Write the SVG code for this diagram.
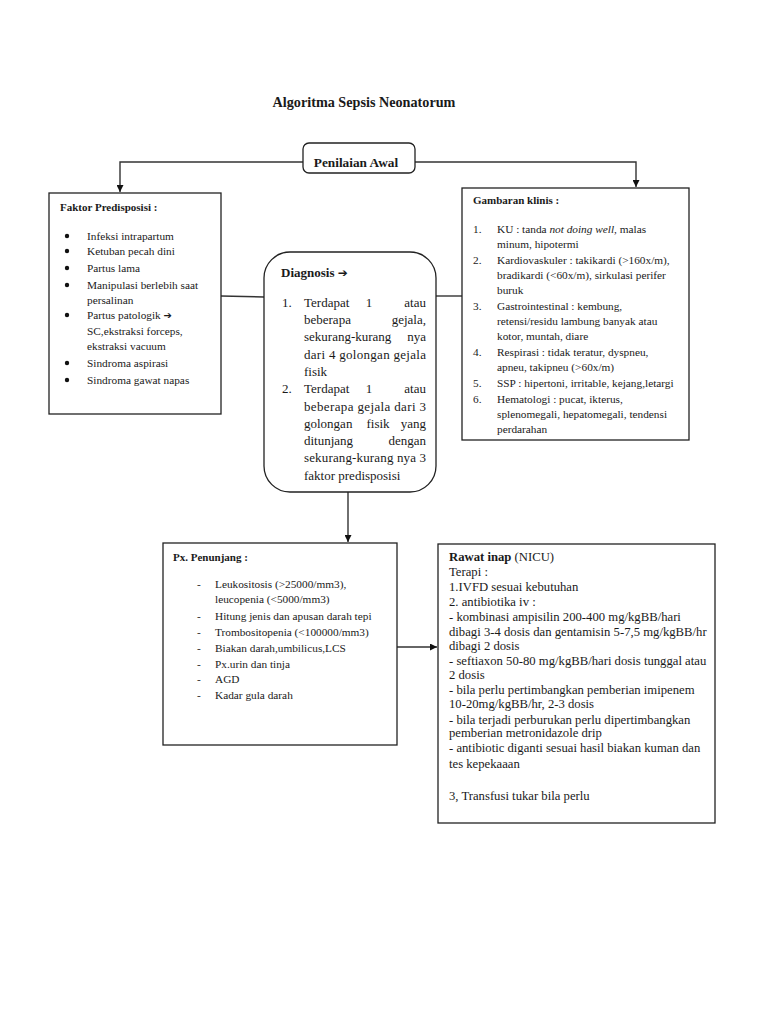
<svg xmlns="http://www.w3.org/2000/svg" width="768" height="1024" viewBox="0 0 768 1024">
<style>
text{font-family:"Liberation Serif","Times New Roman",serif;fill:#1a1a1a}
.box{fill:#fff;stroke:#222;stroke-width:1.3}
.b{font-weight:bold}
.s11{font-size:11.3px}
.s13{font-size:13px}
.s125{font-size:12.7px}
.h{font-size:11px;font-weight:bold}
.arr{font-family:"DejaVu Sans",sans-serif}
.con{fill:none;stroke:#333;stroke-width:1.4}
</style>
<defs>
<marker id="ah" viewBox="0 0 10 10" refX="10" refY="5" markerWidth="7" markerHeight="7" orient="auto" markerUnits="userSpaceOnUse">
<path d="M0,0 L10,5 L0,10 z" fill="#111"/>
</marker>
</defs>
<rect width="768" height="1024" fill="#fff"/>
<text x="364" y="107" text-anchor="middle" class="b" font-size="14.2">Algoritma Sepsis Neonatorum</text>

<g id="connectors">
<path class="con" d="M303,162 H120 V192" marker-end="url(#ah)"/>
<path class="con" d="M415,162 H636 V187" marker-end="url(#ah)"/>
<path class="con" d="M221,296 L264,297"/>
<path class="con" d="M436,296 L462,296"/>
<path class="con" d="M348,492 V542" marker-end="url(#ah)"/>
<path class="con" d="M397,647 H437" marker-end="url(#ah)"/>
</g>

<g id="penilaian">
<rect class="box" x="303" y="143" width="112" height="30" rx="6"/>
<text x="356" y="167" text-anchor="middle" class="b" font-size="13.3">Penilaian Awal</text>
</g>

<g id="faktor">
<rect class="box" x="49" y="193" width="172" height="221"/>
<text x="60" y="211" class="h">Faktor Predisposisi :</text>
<g fill="#111">
<circle cx="67" cy="236" r="2.2"/><circle cx="67" cy="251" r="2.2"/><circle cx="67" cy="268" r="2.2"/>
<circle cx="67" cy="285" r="2.2"/><circle cx="67" cy="315" r="2.2"/><circle cx="67" cy="363" r="2.2"/>
<circle cx="67" cy="380" r="2.2"/>
</g>
<g class="s11">
<text x="87" y="240">Infeksi intrapartum</text>
<text x="87" y="255">Ketuban pecah dini</text>
<text x="87" y="272">Partus lama</text>
<text x="87" y="289">Manipulasi berlebih saat</text>
<text x="87" y="304">persalinan</text>
<text x="87" y="319">Partus patologik <tspan class="arr" font-size="10">➔</tspan></text>
<text x="87" y="335">SC,ekstraksi forceps,</text>
<text x="87" y="350">ekstraksi vacuum</text>
<text x="87" y="367">Sindroma aspirasi</text>
<text x="87" y="384">Sindroma gawat napas</text>
</g>
</g>

<g id="gambaran">
<rect class="box" x="462" y="188" width="227" height="252"/>
<text x="473" y="204" class="h">Gambaran klinis :</text>
<g class="s11">
<text x="473" y="233">1.</text>
<text x="497" y="233">KU : tanda <tspan font-style="italic">not doing well,</tspan> malas</text>
<text x="497" y="248">minum, hipotermi</text>
<text x="473" y="264">2.</text>
<text x="497" y="264">Kardiovaskuler : takikardi (&gt;160x/m),</text>
<text x="497" y="279">bradikardi (&lt;60x/m), sirkulasi perifer</text>
<text x="497" y="294">buruk</text>
<text x="473" y="310">3.</text>
<text x="497" y="310">Gastrointestinal : kembung,</text>
<text x="497" y="325">retensi/residu lambung banyak atau</text>
<text x="497" y="340">kotor, muntah, diare</text>
<text x="473" y="356">4.</text>
<text x="497" y="356">Respirasi : tidak teratur, dyspneu,</text>
<text x="497" y="371">apneu, takipneu (&gt;60x/m)</text>
<text x="473" y="387">5.</text>
<text x="497" y="387">SSP : hipertoni, irritable, kejang,letargi</text>
<text x="473" y="403">6.</text>
<text x="497" y="403">Hematologi : pucat, ikterus,</text>
<text x="497" y="418">splenomegali, hepatomegali, tendensi</text>
<text x="497" y="433">perdarahan</text>
</g>
</g>

<g id="diagnosis">
<rect class="box" x="264" y="252" width="172" height="240" rx="26"/>
<text x="281" y="277" class="b s13">Diagnosis <tspan class="arr" font-size="12">➔</tspan></text>
<g class="s13">
<text x="282" y="307">1.</text>
<text x="304" y="307">Terdapat</text><text x="369" y="307" text-anchor="middle">1</text><text x="426" y="307" text-anchor="end">atau</text>
<text x="304" y="324">beberapa</text><text x="426" y="324" text-anchor="end">gejala,</text>
<text x="304" y="341">sekurang-kurang</text><text x="426" y="341" text-anchor="end">nya</text>
<text x="304" y="359" textLength="122" lengthAdjust="spacing">dari 4 golongan gejala</text>
<text x="304" y="376">fisik</text>
<text x="282" y="393">2.</text>
<text x="304" y="393">Terdapat</text><text x="369" y="393" text-anchor="middle">1</text><text x="426" y="393" text-anchor="end">atau</text>
<text x="304" y="411" textLength="122" lengthAdjust="spacing">beberapa gejala dari 3</text>
<text x="304" y="428">golongan</text><text x="378" y="428" text-anchor="middle">fisik</text><text x="426" y="428" text-anchor="end">yang</text>
<text x="304" y="445">ditunjang</text><text x="426" y="445" text-anchor="end">dengan</text>
<text x="304" y="462" textLength="122" lengthAdjust="spacing">sekurang-kurang nya 3</text>
<text x="304" y="480">faktor predisposisi</text>
</g>
</g>

<g id="penunjang">
<rect class="box" x="163" y="543" width="234" height="202"/>
<text x="173" y="561" class="h">Px. Penunjang :</text>
<g class="s11">
<text x="197" y="588">-</text><text x="215" y="588">Leukositosis (&gt;25000/mm3),</text>
<text x="215" y="603">leucopenia (&lt;5000/mm3)</text>
<text x="197" y="620">-</text><text x="215" y="620">Hitung jenis dan apusan darah tepi</text>
<text x="197" y="636">-</text><text x="215" y="636">Trombositopenia (&lt;100000/mm3)</text>
<text x="197" y="652">-</text><text x="215" y="652">Biakan darah,umbilicus,LCS</text>
<text x="197" y="668">-</text><text x="215" y="668">Px.urin dan tinja</text>
<text x="197" y="683">-</text><text x="215" y="683">AGD</text>
<text x="197" y="699">-</text><text x="215" y="699">Kadar gula darah</text>
</g>
</g>

<g id="rawat">
<rect class="box" x="438" y="544" width="277" height="279"/>
<g class="s125">
<text x="449" y="561"><tspan class="b">Rawat inap</tspan> (NICU)</text>
<text x="449" y="576">Terapi :</text>
<text x="449" y="591">1.IVFD sesuai kebutuhan</text>
<text x="449" y="606">2. antibiotika iv :</text>
<text x="449" y="621">- kombinasi ampisilin 200-400 mg/kgBB/hari</text>
<text x="449" y="636">dibagi 3-4 dosis dan gentamisin 5-7,5 mg/kgBB/hr</text>
<text x="449" y="650">dibagi 2 dosis</text>
<text x="449" y="665">- seftiaxon 50-80 mg/kgBB/hari dosis tunggal atau</text>
<text x="449" y="679">2 dosis</text>
<text x="449" y="694">- bila perlu pertimbangkan pemberian imipenem</text>
<text x="449" y="708">10-20mg/kgBB/hr, 2-3 dosis</text>
<text x="449" y="724">- bila terjadi perburukan perlu dipertimbangkan</text>
<text x="449" y="737">pemberian metronidazole drip</text>
<text x="449" y="752">- antibiotic diganti sesuai hasil biakan kuman dan</text>
<text x="449" y="768">tes kepekaaan</text>
<text x="449" y="800">3, Transfusi tukar bila perlu</text>
</g>
</g>
</svg>
